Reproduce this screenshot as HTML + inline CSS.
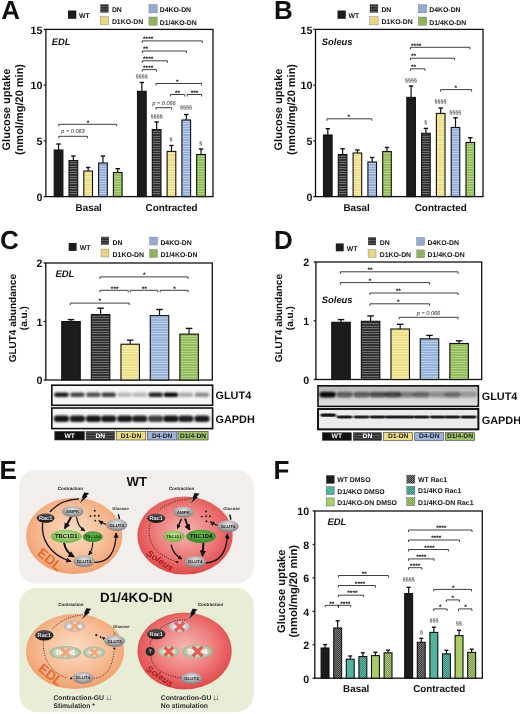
<!DOCTYPE html>
<html><head><meta charset="utf-8"><title>Figure</title>
<style>html,body{margin:0;padding:0;background:#fff;width:520px;height:714px;overflow:hidden}svg{display:block}</style>
</head><body>
<svg width="520" height="714" viewBox="0 0 520 714" font-family="Liberation Sans, Arial, sans-serif" text-rendering="geometricPrecision">
<defs>
<pattern id="pDN" patternUnits="userSpaceOnUse" width="10" height="2.5"><rect width="10" height="2.5" fill="#262626"/><rect y="0.8" width="10" height="0.9" fill="#8d8d8d"/></pattern>
<pattern id="pD1" patternUnits="userSpaceOnUse" width="10" height="2.5"><rect width="10" height="2.5" fill="#eadc78"/><rect y="0.8" width="10" height="0.9" fill="#faf5c8"/></pattern>
<pattern id="pD4" patternUnits="userSpaceOnUse" width="10" height="2.5"><rect width="10" height="2.5" fill="#8fa9d6"/><rect y="0.8" width="10" height="0.9" fill="#cddbf0"/></pattern>
<pattern id="pD14" patternUnits="userSpaceOnUse" width="10" height="2.5"><rect width="10" height="2.5" fill="#8ab84e"/><rect y="0.8" width="10" height="0.9" fill="#c6dea0"/></pattern>
<pattern id="pDNl" patternUnits="userSpaceOnUse" width="10" height="2.6"><rect width="10" height="2.6" fill="#2c2c2c"/><rect y="0.8" width="10" height="1.0" fill="#5c5c5c"/></pattern>
<pattern id="pWTR" patternUnits="userSpaceOnUse" width="2" height="2"><rect width="2" height="2" fill="#3c3c3c"/><rect width="1" height="1" fill="#7a7a7a"/><rect x="1" y="1" width="1" height="1" fill="#7a7a7a"/></pattern>
<pattern id="pKOR" patternUnits="userSpaceOnUse" width="2" height="2"><rect width="2" height="2" fill="#368c7b"/><rect width="1" height="1" fill="#62b8a6"/><rect x="1" y="1" width="1" height="1" fill="#62b8a6"/></pattern>
<pattern id="pDNR" patternUnits="userSpaceOnUse" width="2" height="2"><rect width="2" height="2" fill="#7c9c45"/><rect width="1" height="1" fill="#aac878"/><rect x="1" y="1" width="1" height="1" fill="#aac878"/></pattern>
<radialGradient id="gOr" cx="50%" cy="45%" r="55%"><stop offset="0" stop-color="#fbdcc4"/><stop offset="0.6" stop-color="#f7be96"/><stop offset="1" stop-color="#f1a06e"/></radialGradient>
<radialGradient id="gRd" cx="50%" cy="45%" r="55%"><stop offset="0" stop-color="#f7b8b4"/><stop offset="0.55" stop-color="#ee7f7d"/><stop offset="1" stop-color="#e2484b"/></radialGradient>
<radialGradient id="gGy" cx="50%" cy="35%" r="65%"><stop offset="0" stop-color="#e4e4e4"/><stop offset="0.55" stop-color="#b0b0b0"/><stop offset="1" stop-color="#7c7c7c"/></radialGradient>
<linearGradient id="gBk" x1="0" y1="0" x2="0" y2="1"><stop offset="0" stop-color="#555"/><stop offset="1" stop-color="#111"/></linearGradient>
<radialGradient id="gLG" cx="50%" cy="40%" r="60%"><stop offset="0" stop-color="#c4e79a"/><stop offset="1" stop-color="#6fb342"/></radialGradient>
<radialGradient id="gDG" cx="50%" cy="40%" r="60%"><stop offset="0" stop-color="#6cbf4c"/><stop offset="1" stop-color="#2e8a2a"/></radialGradient>
<radialGradient id="gFd" cx="50%" cy="50%" r="55%"><stop offset="0" stop-color="#f6f8fa"/><stop offset="0.5" stop-color="#dcdee0"/><stop offset="1" stop-color="#a8a8a8"/></radialGradient>
<radialGradient id="gFdG" cx="50%" cy="50%" r="55%"><stop offset="0" stop-color="#f4f6f0"/><stop offset="0.5" stop-color="#d4dccc"/><stop offset="1" stop-color="#8fb283"/></radialGradient>
<marker id="ah" viewBox="0 0 10 10" refX="8" refY="5" markerWidth="4" markerHeight="4" orient="auto-start-reverse"><path d="M0,0 L10,5 L0,10 z" fill="#111"/></marker>
</defs>
<rect x="0" y="0" width="520" height="714" fill="#ffffff" stroke="none" stroke-width="0" />
<text x="1.2" y="18.7" font-size="26" text-anchor="start" font-weight="bold" font-style="normal" fill="#111" >A</text>
<rect x="68" y="10.5" width="8.3" height="8.3" fill="#1c1c1c" stroke="none" stroke-width="0" />
<text x="79" y="17.8" font-size="6.9" text-anchor="start" font-weight="bold" font-style="normal" fill="#111" >WT</text>
<rect x="100.3" y="4.3" width="8.3" height="8.3" fill="url(#pDNl)" stroke="none" stroke-width="0" />
<text x="111.9" y="12" font-size="6.9" text-anchor="start" font-weight="bold" font-style="normal" fill="#111" >DN</text>
<rect x="100.3" y="16.6" width="8.3" height="8.3" fill="#e8d67c" stroke="#777" stroke-width="0.4" />
<text x="111.9" y="24.3" font-size="6.9" text-anchor="start" font-weight="bold" font-style="normal" fill="#111" >D1KO-DN</text>
<rect x="148.9" y="4.6" width="8.3" height="8.3" fill="#93aad2" stroke="#777" stroke-width="0.4" />
<text x="159.7" y="12.3" font-size="6.9" text-anchor="start" font-weight="bold" font-style="normal" fill="#111" >D4KO-DN</text>
<rect x="148.9" y="17" width="8.3" height="8.3" fill="#8db359" stroke="#777" stroke-width="0.4" />
<text x="159.7" y="24.5" font-size="6.9" text-anchor="start" font-weight="bold" font-style="normal" fill="#111" >D1/4KO-DN</text>
<rect x="45.9" y="29.4" width="167.1" height="167.2" fill="none" stroke="#111" stroke-width="1.3" />
<line x1="43.7" y1="196.6" x2="45.9" y2="196.6" stroke="#111" stroke-width="1.2" />
<text x="42.4" y="200.9" font-size="10.7" text-anchor="end" font-weight="bold" font-style="normal" fill="#111" >0</text>
<line x1="43.7" y1="140.87" x2="45.9" y2="140.87" stroke="#111" stroke-width="1.2" />
<text x="42.4" y="145.17" font-size="10.7" text-anchor="end" font-weight="bold" font-style="normal" fill="#111" >5</text>
<line x1="43.7" y1="85.13" x2="45.9" y2="85.13" stroke="#111" stroke-width="1.2" />
<text x="42.4" y="89.43" font-size="10.7" text-anchor="end" font-weight="bold" font-style="normal" fill="#111" >10</text>
<line x1="43.7" y1="29.4" x2="45.9" y2="29.4" stroke="#111" stroke-width="1.2" />
<text x="42.4" y="33.7" font-size="10.7" text-anchor="end" font-weight="bold" font-style="normal" fill="#111" >15</text>
<text transform="translate(10.2,109.5) rotate(-90)" font-size="11" text-anchor="middle" font-weight="bold" fill="#111">Glucose uptake</text>
<text transform="translate(22.6,109.5) rotate(-90)" font-size="11" text-anchor="middle" font-weight="bold" fill="#111">(nmol/mg/20 min)</text>
<text x="51.8" y="44.6" font-size="9.4" text-anchor="start" font-weight="bold" font-style="italic" fill="#111" >EDL</text>
<rect x="54.2" y="150" width="8.7" height="46.6" fill="#1c1c1c" stroke="#111" stroke-width="1.1" />
<line x1="58.55" y1="150" x2="58.55" y2="144" stroke="#111" stroke-width="1.2" />
<line x1="56.35" y1="144" x2="60.75" y2="144" stroke="#111" stroke-width="1.4" />
<rect x="137.5" y="91.3" width="8.7" height="105.3" fill="#1c1c1c" stroke="#111" stroke-width="1.1" />
<line x1="141.85" y1="91.3" x2="141.85" y2="82.5" stroke="#111" stroke-width="1.2" />
<line x1="139.65" y1="82.5" x2="144.05" y2="82.5" stroke="#111" stroke-width="1.4" />
<rect x="69" y="160.5" width="8.7" height="36.1" fill="url(#pDN)" stroke="#111" stroke-width="1.1" />
<line x1="73.35" y1="160.5" x2="73.35" y2="156" stroke="#111" stroke-width="1.2" />
<line x1="71.15" y1="156" x2="75.55" y2="156" stroke="#111" stroke-width="1.4" />
<rect x="152.3" y="129.6" width="8.7" height="67" fill="url(#pDN)" stroke="#111" stroke-width="1.1" />
<line x1="156.65" y1="129.6" x2="156.65" y2="122" stroke="#111" stroke-width="1.2" />
<line x1="154.45" y1="122" x2="158.85" y2="122" stroke="#111" stroke-width="1.4" />
<rect x="83.8" y="171" width="8.7" height="25.6" fill="url(#pD1)" stroke="#111" stroke-width="1.1" />
<line x1="88.15" y1="171" x2="88.15" y2="167.5" stroke="#111" stroke-width="1.2" />
<line x1="85.95" y1="167.5" x2="90.35" y2="167.5" stroke="#111" stroke-width="1.4" />
<rect x="167.1" y="151.4" width="8.7" height="45.2" fill="url(#pD1)" stroke="#111" stroke-width="1.1" />
<line x1="171.45" y1="151.4" x2="171.45" y2="145.5" stroke="#111" stroke-width="1.2" />
<line x1="169.25" y1="145.5" x2="173.65" y2="145.5" stroke="#111" stroke-width="1.4" />
<rect x="98.6" y="163" width="8.7" height="33.6" fill="url(#pD4)" stroke="#111" stroke-width="1.1" />
<line x1="102.95" y1="163" x2="102.95" y2="156" stroke="#111" stroke-width="1.2" />
<line x1="100.75" y1="156" x2="105.15" y2="156" stroke="#111" stroke-width="1.4" />
<rect x="181.9" y="120" width="8.7" height="76.6" fill="url(#pD4)" stroke="#111" stroke-width="1.1" />
<line x1="186.25" y1="120" x2="186.25" y2="114.5" stroke="#111" stroke-width="1.2" />
<line x1="184.05" y1="114.5" x2="188.45" y2="114.5" stroke="#111" stroke-width="1.4" />
<rect x="113.4" y="172.5" width="8.7" height="24.1" fill="url(#pD14)" stroke="#111" stroke-width="1.1" />
<line x1="117.75" y1="172.5" x2="117.75" y2="168.7" stroke="#111" stroke-width="1.2" />
<line x1="115.55" y1="168.7" x2="119.95" y2="168.7" stroke="#111" stroke-width="1.4" />
<rect x="196.7" y="154.5" width="8.7" height="42.1" fill="url(#pD14)" stroke="#111" stroke-width="1.1" />
<line x1="201.05" y1="154.5" x2="201.05" y2="149" stroke="#111" stroke-width="1.2" />
<line x1="198.85" y1="149" x2="203.25" y2="149" stroke="#111" stroke-width="1.4" />
<text x="88.7" y="210.8" font-size="9.9" text-anchor="middle" font-weight="bold" font-style="normal" fill="#111" >Basal</text>
<text x="171.6" y="210.9" font-size="9.9" text-anchor="middle" font-weight="bold" font-style="normal" fill="#111" >Contracted</text>
<path d="M58.75,126.3 L58.75,124.3 L116.75,124.3 L116.75,126.3" fill="none" stroke="#2a2a2a" stroke-width="0.9" />
<text x="88" y="124.5" font-size="6.6" text-anchor="middle" font-weight="bold" font-style="normal" fill="#111" >*</text>
<path d="M58.75,138.3 L58.75,136.3 L87.5,136.3 L87.5,138.3" fill="none" stroke="#2a2a2a" stroke-width="0.9" />
<text x="73" y="133.4" font-size="5.6" text-anchor="middle" font-weight="normal" font-style="italic" fill="#222" >p = 0.063</text>
<path d="M142.3,42.9 L142.3,40.9 L202.3,40.9 L202.3,42.9" fill="none" stroke="#2a2a2a" stroke-width="0.9" />
<text x="143" y="41.1" font-size="6.6" text-anchor="start" font-weight="bold" font-style="normal" fill="#111" >****</text>
<path d="M142.3,53 L142.3,51 L186.4,51 L186.4,53" fill="none" stroke="#2a2a2a" stroke-width="0.9" />
<text x="143" y="51.2" font-size="6.6" text-anchor="start" font-weight="bold" font-style="normal" fill="#111" >**</text>
<path d="M142.3,62.8 L142.3,60.8 L167.4,60.8 L167.4,62.8" fill="none" stroke="#2a2a2a" stroke-width="0.9" />
<text x="143" y="61" font-size="6.6" text-anchor="start" font-weight="bold" font-style="normal" fill="#111" >****</text>
<path d="M142.3,71.6 L142.3,69.6 L156.5,69.6 L156.5,71.6" fill="none" stroke="#2a2a2a" stroke-width="0.9" />
<text x="143" y="69.8" font-size="6.6" text-anchor="start" font-weight="bold" font-style="normal" fill="#111" >****</text>
<path d="M156,85.5 L156,83.5 L201.5,83.5 L201.5,85.5" fill="none" stroke="#2a2a2a" stroke-width="0.9" />
<text x="177.2" y="83.7" font-size="6.6" text-anchor="middle" font-weight="bold" font-style="normal" fill="#111" >*</text>
<path d="M170.5,96.5 L170.5,94.5 L184.7,94.5 L184.7,96.5" fill="none" stroke="#2a2a2a" stroke-width="0.9" />
<text x="177.5" y="94.7" font-size="6.6" text-anchor="middle" font-weight="bold" font-style="normal" fill="#111" >**</text>
<path d="M187.3,96.5 L187.3,94.5 L201.6,94.5 L201.6,96.5" fill="none" stroke="#2a2a2a" stroke-width="0.9" />
<text x="194.5" y="94.7" font-size="6.6" text-anchor="middle" font-weight="bold" font-style="normal" fill="#111" >***</text>
<path d="M156,109.7 L156,107.7 L171.7,107.7 L171.7,109.7" fill="none" stroke="#2a2a2a" stroke-width="0.9" />
<text x="164" y="105" font-size="5.6" text-anchor="middle" font-weight="normal" font-style="italic" fill="#222" >p = 0.066</text>
<text x="141.8" y="77.9" font-size="5.4" text-anchor="middle" font-weight="bold" font-style="normal" fill="#5a5a5a" >§§§§</text>
<text x="156.7" y="117.5" font-size="5.4" text-anchor="middle" font-weight="bold" font-style="normal" fill="#5a5a5a" >§§§§</text>
<text x="171" y="140.5" font-size="5.4" text-anchor="middle" font-weight="bold" font-style="normal" fill="#5a5a5a" >§</text>
<text x="186" y="109.2" font-size="5.4" text-anchor="middle" font-weight="bold" font-style="normal" fill="#5a5a5a" >§§§§</text>
<text x="200.8" y="144.5" font-size="5.4" text-anchor="middle" font-weight="bold" font-style="normal" fill="#5a5a5a" >§</text>
<text x="273.9" y="18.7" font-size="26" text-anchor="start" font-weight="bold" font-style="normal" fill="#111" >B</text>
<rect x="337.5" y="10.5" width="8.3" height="8.3" fill="#1c1c1c" stroke="none" stroke-width="0" />
<text x="348.5" y="17.8" font-size="6.9" text-anchor="start" font-weight="bold" font-style="normal" fill="#111" >WT</text>
<rect x="369.8" y="4.3" width="8.3" height="8.3" fill="url(#pDNl)" stroke="none" stroke-width="0" />
<text x="381.4" y="12" font-size="6.9" text-anchor="start" font-weight="bold" font-style="normal" fill="#111" >DN</text>
<rect x="369.8" y="16.6" width="8.3" height="8.3" fill="#e8d67c" stroke="#777" stroke-width="0.4" />
<text x="381.4" y="24.3" font-size="6.9" text-anchor="start" font-weight="bold" font-style="normal" fill="#111" >D1KO-DN</text>
<rect x="418.4" y="4.6" width="8.3" height="8.3" fill="#93aad2" stroke="#777" stroke-width="0.4" />
<text x="429.2" y="12.3" font-size="6.9" text-anchor="start" font-weight="bold" font-style="normal" fill="#111" >D4KO-DN</text>
<rect x="418.4" y="17" width="8.3" height="8.3" fill="#8db359" stroke="#777" stroke-width="0.4" />
<text x="429.2" y="24.5" font-size="6.9" text-anchor="start" font-weight="bold" font-style="normal" fill="#111" >D1/4KO-DN</text>
<rect x="315.5" y="29.4" width="167.5" height="167.2" fill="none" stroke="#111" stroke-width="1.3" />
<line x1="313.3" y1="196.6" x2="315.5" y2="196.6" stroke="#111" stroke-width="1.2" />
<text x="312.4" y="200.9" font-size="10.7" text-anchor="end" font-weight="bold" font-style="normal" fill="#111" >0</text>
<line x1="313.3" y1="140.87" x2="315.5" y2="140.87" stroke="#111" stroke-width="1.2" />
<text x="312.4" y="145.17" font-size="10.7" text-anchor="end" font-weight="bold" font-style="normal" fill="#111" >5</text>
<line x1="313.3" y1="85.13" x2="315.5" y2="85.13" stroke="#111" stroke-width="1.2" />
<text x="312.4" y="89.43" font-size="10.7" text-anchor="end" font-weight="bold" font-style="normal" fill="#111" >10</text>
<line x1="313.3" y1="29.4" x2="315.5" y2="29.4" stroke="#111" stroke-width="1.2" />
<text x="312.4" y="33.7" font-size="10.7" text-anchor="end" font-weight="bold" font-style="normal" fill="#111" >15</text>
<text transform="translate(281.9,109.5) rotate(-90)" font-size="11" text-anchor="middle" font-weight="bold" fill="#111">Glucose uptake</text>
<text transform="translate(294.5,109.5) rotate(-90)" font-size="11" text-anchor="middle" font-weight="bold" fill="#111">(nmol/mg/20 min)</text>
<text x="321.8" y="44.6" font-size="9.4" text-anchor="start" font-weight="bold" font-style="italic" fill="#111" >Soleus</text>
<rect x="323.5" y="135" width="8.6" height="61.6" fill="#1c1c1c" stroke="#111" stroke-width="1.1" />
<line x1="327.8" y1="135" x2="327.8" y2="128.7" stroke="#111" stroke-width="1.2" />
<line x1="325.6" y1="128.7" x2="330" y2="128.7" stroke="#111" stroke-width="1.4" />
<rect x="406.8" y="97.4" width="8.6" height="99.2" fill="#1c1c1c" stroke="#111" stroke-width="1.1" />
<line x1="411.1" y1="97.4" x2="411.1" y2="86" stroke="#111" stroke-width="1.2" />
<line x1="408.9" y1="86" x2="413.3" y2="86" stroke="#111" stroke-width="1.4" />
<rect x="338.3" y="154.5" width="8.6" height="42.1" fill="url(#pDN)" stroke="#111" stroke-width="1.1" />
<line x1="342.6" y1="154.5" x2="342.6" y2="148.7" stroke="#111" stroke-width="1.2" />
<line x1="340.4" y1="148.7" x2="344.8" y2="148.7" stroke="#111" stroke-width="1.4" />
<rect x="421.6" y="133.3" width="8.6" height="63.3" fill="url(#pDN)" stroke="#111" stroke-width="1.1" />
<line x1="425.9" y1="133.3" x2="425.9" y2="128.4" stroke="#111" stroke-width="1.2" />
<line x1="423.7" y1="128.4" x2="428.1" y2="128.4" stroke="#111" stroke-width="1.4" />
<rect x="353.1" y="153" width="8.6" height="43.6" fill="url(#pD1)" stroke="#111" stroke-width="1.1" />
<line x1="357.4" y1="153" x2="357.4" y2="150" stroke="#111" stroke-width="1.2" />
<line x1="355.2" y1="150" x2="359.6" y2="150" stroke="#111" stroke-width="1.4" />
<rect x="436.4" y="113.4" width="8.6" height="83.2" fill="url(#pD1)" stroke="#111" stroke-width="1.1" />
<line x1="440.7" y1="113.4" x2="440.7" y2="108" stroke="#111" stroke-width="1.2" />
<line x1="438.5" y1="108" x2="442.9" y2="108" stroke="#111" stroke-width="1.4" />
<rect x="367.9" y="162" width="8.6" height="34.6" fill="url(#pD4)" stroke="#111" stroke-width="1.1" />
<line x1="372.2" y1="162" x2="372.2" y2="157.5" stroke="#111" stroke-width="1.2" />
<line x1="370" y1="157.5" x2="374.4" y2="157.5" stroke="#111" stroke-width="1.4" />
<rect x="451.2" y="127.5" width="8.6" height="69.1" fill="url(#pD4)" stroke="#111" stroke-width="1.1" />
<line x1="455.5" y1="127.5" x2="455.5" y2="117.8" stroke="#111" stroke-width="1.2" />
<line x1="453.3" y1="117.8" x2="457.7" y2="117.8" stroke="#111" stroke-width="1.4" />
<rect x="382.7" y="151.5" width="8.6" height="45.1" fill="url(#pD14)" stroke="#111" stroke-width="1.1" />
<line x1="387" y1="151.5" x2="387" y2="147.5" stroke="#111" stroke-width="1.2" />
<line x1="384.8" y1="147.5" x2="389.2" y2="147.5" stroke="#111" stroke-width="1.4" />
<rect x="466" y="142.5" width="8.6" height="54.1" fill="url(#pD14)" stroke="#111" stroke-width="1.1" />
<line x1="470.3" y1="142.5" x2="470.3" y2="137.7" stroke="#111" stroke-width="1.2" />
<line x1="468.1" y1="137.7" x2="472.5" y2="137.7" stroke="#111" stroke-width="1.4" />
<text x="356.6" y="210.8" font-size="9.9" text-anchor="middle" font-weight="bold" font-style="normal" fill="#111" >Basal</text>
<text x="440.8" y="210.9" font-size="9.9" text-anchor="middle" font-weight="bold" font-style="normal" fill="#111" >Contracted</text>
<path d="M327,120.8 L327,118.8 L371.8,118.8 L371.8,120.8" fill="none" stroke="#2a2a2a" stroke-width="0.9" />
<text x="348.8" y="119" font-size="6.6" text-anchor="middle" font-weight="bold" font-style="normal" fill="#111" >*</text>
<path d="M410.5,49.3 L410.5,47.3 L470,47.3 L470,49.3" fill="none" stroke="#2a2a2a" stroke-width="0.9" />
<text x="411" y="47.5" font-size="6.6" text-anchor="start" font-weight="bold" font-style="normal" fill="#111" >****</text>
<path d="M410.5,60.2 L410.5,58.2 L454.5,58.2 L454.5,60.2" fill="none" stroke="#2a2a2a" stroke-width="0.9" />
<text x="411" y="58.4" font-size="6.6" text-anchor="start" font-weight="bold" font-style="normal" fill="#111" >**</text>
<path d="M410.5,70.8 L410.5,68.8 L425,68.8 L425,70.8" fill="none" stroke="#2a2a2a" stroke-width="0.9" />
<text x="411" y="69" font-size="6.6" text-anchor="start" font-weight="bold" font-style="normal" fill="#111" >**</text>
<path d="M440.5,91.6 L440.5,89.6 L471.6,89.6 L471.6,91.6" fill="none" stroke="#2a2a2a" stroke-width="0.9" />
<text x="455.7" y="89.8" font-size="6.6" text-anchor="middle" font-weight="bold" font-style="normal" fill="#111" >*</text>
<text x="411" y="81.8" font-size="5.4" text-anchor="middle" font-weight="bold" font-style="normal" fill="#5a5a5a" >§§§§</text>
<text x="425.8" y="123.9" font-size="5.4" text-anchor="middle" font-weight="bold" font-style="normal" fill="#5a5a5a" >§</text>
<text x="440.6" y="103" font-size="5.4" text-anchor="middle" font-weight="bold" font-style="normal" fill="#5a5a5a" >§§§§</text>
<text x="455.3" y="113.5" font-size="5.4" text-anchor="middle" font-weight="bold" font-style="normal" fill="#5a5a5a" >§§§§</text>
<text x="0" y="248.7" font-size="26" text-anchor="start" font-weight="bold" font-style="normal" fill="#111" >C</text>
<rect x="68.7" y="243" width="7.9" height="7.9" fill="#1c1c1c" stroke="none" stroke-width="0" />
<text x="79.7" y="250.3" font-size="6.9" text-anchor="start" font-weight="bold" font-style="normal" fill="#111" >WT</text>
<rect x="101" y="236.8" width="7.9" height="7.9" fill="url(#pDNl)" stroke="none" stroke-width="0" />
<text x="112.6" y="244.5" font-size="6.9" text-anchor="start" font-weight="bold" font-style="normal" fill="#111" >DN</text>
<rect x="101" y="249.1" width="7.9" height="7.9" fill="#e8d67c" stroke="#777" stroke-width="0.4" />
<text x="112.6" y="256.8" font-size="6.9" text-anchor="start" font-weight="bold" font-style="normal" fill="#111" >D1KO-DN</text>
<rect x="149.6" y="237.1" width="7.9" height="7.9" fill="#93aad2" stroke="#777" stroke-width="0.4" />
<text x="160.4" y="244.8" font-size="6.9" text-anchor="start" font-weight="bold" font-style="normal" fill="#111" >D4KO-DN</text>
<rect x="149.6" y="249.5" width="7.9" height="7.9" fill="#8db359" stroke="#777" stroke-width="0.4" />
<text x="160.4" y="257" font-size="6.9" text-anchor="start" font-weight="bold" font-style="normal" fill="#111" >D1/4KO-DN</text>
<rect x="45.8" y="263" width="166.5" height="117" fill="none" stroke="#111" stroke-width="1.3" />
<line x1="43.6" y1="380" x2="45.8" y2="380" stroke="#111" stroke-width="1.2" />
<text x="42.5" y="384.3" font-size="10.7" text-anchor="end" font-weight="bold" font-style="normal" fill="#111" >0</text>
<line x1="43.6" y1="321.5" x2="45.8" y2="321.5" stroke="#111" stroke-width="1.2" />
<text x="42.5" y="325.8" font-size="10.7" text-anchor="end" font-weight="bold" font-style="normal" fill="#111" >1</text>
<line x1="43.6" y1="263" x2="45.8" y2="263" stroke="#111" stroke-width="1.2" />
<text x="42.5" y="267.3" font-size="10.7" text-anchor="end" font-weight="bold" font-style="normal" fill="#111" >2</text>
<text transform="translate(15.7,318.2) rotate(-90)" font-size="10" text-anchor="middle" font-weight="bold" fill="#111">GLUT4 abundance</text>
<text transform="translate(27,318.2) rotate(-90)" font-size="10" text-anchor="middle" font-weight="bold" fill="#111">(a.u.)</text>
<text x="55.4" y="276.6" font-size="9.4" text-anchor="start" font-weight="bold" font-style="italic" fill="#111" >EDL</text>
<rect x="61.75" y="321.6" width="18.5" height="58.4" fill="#1c1c1c" stroke="#111" stroke-width="1.1" />
<line x1="71" y1="321.6" x2="71" y2="319.6" stroke="#111" stroke-width="1.2" />
<line x1="67.75" y1="319.6" x2="74.25" y2="319.6" stroke="#111" stroke-width="1.4" />
<rect x="91.35" y="314.6" width="18.5" height="65.4" fill="url(#pDN)" stroke="#111" stroke-width="1.1" />
<line x1="100.6" y1="314.6" x2="100.6" y2="308.2" stroke="#111" stroke-width="1.2" />
<line x1="97.35" y1="308.2" x2="103.85" y2="308.2" stroke="#111" stroke-width="1.4" />
<rect x="120.95" y="344.2" width="18.5" height="35.8" fill="url(#pD1)" stroke="#111" stroke-width="1.1" />
<line x1="130.2" y1="344.2" x2="130.2" y2="340.2" stroke="#111" stroke-width="1.2" />
<line x1="126.95" y1="340.2" x2="133.45" y2="340.2" stroke="#111" stroke-width="1.4" />
<rect x="150.25" y="315.6" width="18.5" height="64.4" fill="url(#pD4)" stroke="#111" stroke-width="1.1" />
<line x1="159.5" y1="315.6" x2="159.5" y2="309.5" stroke="#111" stroke-width="1.2" />
<line x1="156.25" y1="309.5" x2="162.75" y2="309.5" stroke="#111" stroke-width="1.4" />
<rect x="179.85" y="334.1" width="18.5" height="45.9" fill="url(#pD14)" stroke="#111" stroke-width="1.1" />
<line x1="189.1" y1="334.1" x2="189.1" y2="328.4" stroke="#111" stroke-width="1.2" />
<line x1="185.85" y1="328.4" x2="192.35" y2="328.4" stroke="#111" stroke-width="1.4" />
<path d="M99.9,278.9 L99.9,276.9 L188.1,276.9 L188.1,278.9" fill="none" stroke="#2a2a2a" stroke-width="0.9" />
<text x="144.3" y="277.1" font-size="6.6" text-anchor="middle" font-weight="bold" font-style="normal" fill="#111" >*</text>
<path d="M100,292.3 L100,290.3 L128.2,290.3 L128.2,292.3" fill="none" stroke="#2a2a2a" stroke-width="0.9" />
<text x="114.7" y="290.5" font-size="6.6" text-anchor="middle" font-weight="bold" font-style="normal" fill="#111" >***</text>
<path d="M130.2,292.3 L130.2,290.3 L157.8,290.3 L157.8,292.3" fill="none" stroke="#2a2a2a" stroke-width="0.9" />
<text x="144.3" y="290.5" font-size="6.6" text-anchor="middle" font-weight="bold" font-style="normal" fill="#111" >**</text>
<path d="M160.2,292.3 L160.2,290.3 L188.1,290.3 L188.1,292.3" fill="none" stroke="#2a2a2a" stroke-width="0.9" />
<text x="174.6" y="290.5" font-size="6.6" text-anchor="middle" font-weight="bold" font-style="normal" fill="#111" >*</text>
<path d="M70.3,305.1 L70.3,303.1 L129.2,303.1 L129.2,305.1" fill="none" stroke="#2a2a2a" stroke-width="0.9" />
<text x="99.9" y="303.3" font-size="6.6" text-anchor="middle" font-weight="bold" font-style="normal" fill="#111" >*</text>
<text x="274" y="248.7" font-size="26" text-anchor="start" font-weight="bold" font-style="normal" fill="#111" >D</text>
<rect x="335.8" y="243.4" width="7.9" height="7.9" fill="#1c1c1c" stroke="none" stroke-width="0" />
<text x="346.8" y="250.7" font-size="6.9" text-anchor="start" font-weight="bold" font-style="normal" fill="#111" >WT</text>
<rect x="368.1" y="237.2" width="7.9" height="7.9" fill="url(#pDNl)" stroke="none" stroke-width="0" />
<text x="379.7" y="244.9" font-size="6.9" text-anchor="start" font-weight="bold" font-style="normal" fill="#111" >DN</text>
<rect x="368.1" y="249.5" width="7.9" height="7.9" fill="#e8d67c" stroke="#777" stroke-width="0.4" />
<text x="379.7" y="257.2" font-size="6.9" text-anchor="start" font-weight="bold" font-style="normal" fill="#111" >D1KO-DN</text>
<rect x="416.7" y="237.5" width="7.9" height="7.9" fill="#93aad2" stroke="#777" stroke-width="0.4" />
<text x="427.5" y="245.2" font-size="6.9" text-anchor="start" font-weight="bold" font-style="normal" fill="#111" >D4KO-DN</text>
<rect x="416.7" y="249.9" width="7.9" height="7.9" fill="#8db359" stroke="#777" stroke-width="0.4" />
<text x="427.5" y="257.4" font-size="6.9" text-anchor="start" font-weight="bold" font-style="normal" fill="#111" >D1/4KO-DN</text>
<rect x="315.9" y="262" width="165.8" height="117.5" fill="none" stroke="#111" stroke-width="1.3" />
<line x1="313.7" y1="379.5" x2="315.9" y2="379.5" stroke="#111" stroke-width="1.2" />
<text x="309.2" y="383.8" font-size="10.7" text-anchor="end" font-weight="bold" font-style="normal" fill="#111" >0</text>
<line x1="313.7" y1="320.75" x2="315.9" y2="320.75" stroke="#111" stroke-width="1.2" />
<text x="309.2" y="325.05" font-size="10.7" text-anchor="end" font-weight="bold" font-style="normal" fill="#111" >1</text>
<line x1="313.7" y1="262" x2="315.9" y2="262" stroke="#111" stroke-width="1.2" />
<text x="309.2" y="266.3" font-size="10.7" text-anchor="end" font-weight="bold" font-style="normal" fill="#111" >2</text>
<text transform="translate(281.7,318.2) rotate(-90)" font-size="10" text-anchor="middle" font-weight="bold" fill="#111">GLUT4 abundance</text>
<text transform="translate(293.4,318.2) rotate(-90)" font-size="10" text-anchor="middle" font-weight="bold" fill="#111">(a.u.)</text>
<text x="321.8" y="303" font-size="9.4" text-anchor="start" font-weight="bold" font-style="italic" fill="#111" >Soleus</text>
<rect x="331.75" y="322.3" width="18.5" height="57.2" fill="#1c1c1c" stroke="#111" stroke-width="1.1" />
<line x1="341" y1="322.3" x2="341" y2="319.6" stroke="#111" stroke-width="1.2" />
<line x1="337.75" y1="319.6" x2="344.25" y2="319.6" stroke="#111" stroke-width="1.4" />
<rect x="361.35" y="321.3" width="18.5" height="58.2" fill="url(#pDN)" stroke="#111" stroke-width="1.1" />
<line x1="370.6" y1="321.3" x2="370.6" y2="315.9" stroke="#111" stroke-width="1.2" />
<line x1="367.35" y1="315.9" x2="373.85" y2="315.9" stroke="#111" stroke-width="1.4" />
<rect x="390.95" y="329" width="18.5" height="50.5" fill="url(#pD1)" stroke="#111" stroke-width="1.1" />
<line x1="400.2" y1="329" x2="400.2" y2="324.3" stroke="#111" stroke-width="1.2" />
<line x1="396.95" y1="324.3" x2="403.45" y2="324.3" stroke="#111" stroke-width="1.4" />
<rect x="420.25" y="338.8" width="18.5" height="40.7" fill="url(#pD4)" stroke="#111" stroke-width="1.1" />
<line x1="429.5" y1="338.8" x2="429.5" y2="335.4" stroke="#111" stroke-width="1.2" />
<line x1="426.25" y1="335.4" x2="432.75" y2="335.4" stroke="#111" stroke-width="1.4" />
<rect x="449.85" y="343.5" width="18.5" height="36" fill="url(#pD14)" stroke="#111" stroke-width="1.1" />
<line x1="459.1" y1="343.5" x2="459.1" y2="340.8" stroke="#111" stroke-width="1.2" />
<line x1="455.85" y1="340.8" x2="462.35" y2="340.8" stroke="#111" stroke-width="1.4" />
<path d="M340.3,273.8 L340.3,271.8 L458.1,271.8 L458.1,273.8" fill="none" stroke="#2a2a2a" stroke-width="0.9" />
<text x="370" y="272" font-size="6.6" text-anchor="middle" font-weight="bold" font-style="normal" fill="#111" >**</text>
<path d="M340.3,284.6 L340.3,282.6 L429.5,282.6 L429.5,284.6" fill="none" stroke="#2a2a2a" stroke-width="0.9" />
<text x="370" y="282.8" font-size="6.6" text-anchor="middle" font-weight="bold" font-style="normal" fill="#111" >*</text>
<path d="M369.9,295 L369.9,293 L458.1,293 L458.1,295" fill="none" stroke="#2a2a2a" stroke-width="0.9" />
<text x="398.2" y="293.2" font-size="6.6" text-anchor="middle" font-weight="bold" font-style="normal" fill="#111" >**</text>
<path d="M369.9,305.8 L369.9,303.8 L429.5,303.8 L429.5,305.8" fill="none" stroke="#2a2a2a" stroke-width="0.9" />
<text x="398.2" y="304" font-size="6.6" text-anchor="middle" font-weight="bold" font-style="normal" fill="#111" >*</text>
<path d="M399.2,319.3 L399.2,317.3 L458.1,317.3 L458.1,319.3" fill="none" stroke="#2a2a2a" stroke-width="0.9" />
<text x="428.5" y="314.6" font-size="5.6" text-anchor="middle" font-weight="normal" font-style="italic" fill="#222" >p = 0.066</text>
<filter id="bl1" x="-50%" y="-100%" width="200%" height="300%"><feGaussianBlur stdDeviation="1.0 0.9"/></filter>
<filter id="bl2" x="-50%" y="-100%" width="200%" height="300%"><feGaussianBlur stdDeviation="0.9 0.5"/></filter>
<linearGradient id="gBlotD" x1="0" y1="0" x2="0" y2="1"><stop offset="0" stop-color="#b4b4b4"/><stop offset="0.45" stop-color="#cdcdcd"/><stop offset="1" stop-color="#e6e6e6"/></linearGradient>
<rect x="51.8" y="385.2" width="160.8" height="20.1" fill="#f6f6f6" stroke="none" stroke-width="0" />
<rect x="54.2" y="392.6" width="14.6" height="4.4" rx="2.2" fill="#000" fill-opacity="0.9" filter="url(#bl1)"/>
<rect x="70.1" y="392.6" width="14.6" height="4.4" rx="2.2" fill="#000" fill-opacity="0.72" filter="url(#bl1)"/>
<rect x="86.1" y="392.6" width="14.6" height="4.4" rx="2.2" fill="#000" fill-opacity="0.68" filter="url(#bl1)"/>
<rect x="101.4" y="392.6" width="14.6" height="4.4" rx="2.2" fill="#000" fill-opacity="0.75" filter="url(#bl1)"/>
<rect x="117.4" y="392.6" width="14.6" height="4.4" rx="2.2" fill="#000" fill-opacity="0.25" filter="url(#bl1)"/>
<rect x="132.4" y="392.6" width="14.6" height="4.4" rx="2.2" fill="#000" fill-opacity="0.25" filter="url(#bl1)"/>
<rect x="148.4" y="392.6" width="14.6" height="4.4" rx="2.2" fill="#000" fill-opacity="0.85" filter="url(#bl1)"/>
<rect x="163.6" y="392.6" width="14.6" height="4.4" rx="2.2" fill="#000" fill-opacity="0.97" filter="url(#bl1)"/>
<rect x="178.6" y="392.6" width="14.6" height="4.4" rx="2.2" fill="#000" fill-opacity="0.3" filter="url(#bl1)"/>
<rect x="194.6" y="392.6" width="14.6" height="4.4" rx="2.2" fill="#000" fill-opacity="0.42" filter="url(#bl1)"/>
<rect x="51.8" y="385.2" width="160.8" height="20.1" fill="none" stroke="#111" stroke-width="1.6" />
<rect x="51.8" y="408" width="160.8" height="20.6" fill="#f6f6f6" stroke="none" stroke-width="0" />
<rect x="53.8" y="415.5" width="15.4" height="6.4" rx="3.2" fill="#000" fill-opacity="0.92" filter="url(#bl1)"/>
<rect x="69.7" y="415.5" width="15.4" height="6.4" rx="3.2" fill="#000" fill-opacity="0.9" filter="url(#bl1)"/>
<rect x="85.7" y="415.5" width="15.4" height="6.4" rx="3.2" fill="#000" fill-opacity="0.92" filter="url(#bl1)"/>
<rect x="101" y="415.5" width="15.4" height="6.4" rx="3.2" fill="#000" fill-opacity="0.9" filter="url(#bl1)"/>
<rect x="117" y="415.5" width="15.4" height="6.4" rx="3.2" fill="#000" fill-opacity="0.9" filter="url(#bl1)"/>
<rect x="132" y="415.5" width="15.4" height="6.4" rx="3.2" fill="#000" fill-opacity="0.88" filter="url(#bl1)"/>
<rect x="148" y="415.5" width="15.4" height="6.4" rx="3.2" fill="#000" fill-opacity="0.75" filter="url(#bl1)"/>
<rect x="163.2" y="415.5" width="15.4" height="6.4" rx="3.2" fill="#000" fill-opacity="0.92" filter="url(#bl1)"/>
<rect x="178.2" y="415.5" width="15.4" height="6.4" rx="3.2" fill="#000" fill-opacity="0.88" filter="url(#bl1)"/>
<rect x="194.2" y="415.5" width="15.4" height="6.4" rx="3.2" fill="#000" fill-opacity="0.9" filter="url(#bl1)"/>
<rect x="51.8" y="408" width="160.8" height="20.6" fill="none" stroke="#111" stroke-width="1.6" />
<text x="215.5" y="398.6" font-size="10.9" text-anchor="start" font-weight="bold" font-style="normal" fill="#111" >GLUT4</text>
<text x="215.5" y="423.3" font-size="10.9" text-anchor="start" font-weight="bold" font-style="normal" fill="#111" >GAPDH</text>
<rect x="318" y="385.8" width="160.4" height="20.6" fill="url(#gBlotD)" stroke="none" stroke-width="0" />
<rect x="319.35" y="391.8" width="16.5" height="5.6" rx="2.8" fill="#000" fill-opacity="0.97" filter="url(#bl1)"/>
<rect x="336.35" y="391.8" width="16.5" height="5.6" rx="2.8" fill="#000" fill-opacity="0.55" filter="url(#bl1)"/>
<rect x="353.35" y="391.8" width="16.5" height="5.6" rx="2.8" fill="#000" fill-opacity="0.55" filter="url(#bl1)"/>
<rect x="369.35" y="391.8" width="16.5" height="5.6" rx="2.8" fill="#000" fill-opacity="0.62" filter="url(#bl1)"/>
<rect x="384.35" y="391.8" width="16.5" height="5.6" rx="2.8" fill="#000" fill-opacity="0.68" filter="url(#bl1)"/>
<rect x="398.35" y="391.8" width="16.5" height="5.6" rx="2.8" fill="#000" fill-opacity="0.4" filter="url(#bl1)"/>
<rect x="413.35" y="391.8" width="16.5" height="5.6" rx="2.8" fill="#000" fill-opacity="0.5" filter="url(#bl1)"/>
<rect x="429.35" y="391.8" width="16.5" height="5.6" rx="2.8" fill="#000" fill-opacity="0.3" filter="url(#bl1)"/>
<rect x="444.35" y="391.8" width="16.5" height="5.6" rx="2.8" fill="#000" fill-opacity="0.48" filter="url(#bl1)"/>
<rect x="460.35" y="391.8" width="16.5" height="5.6" rx="2.8" fill="#000" fill-opacity="0.25" filter="url(#bl1)"/>
<rect x="318" y="385.8" width="160.4" height="20.6" fill="none" stroke="#111" stroke-width="1.6" />
<rect x="318" y="409" width="160.4" height="20.4" fill="#ebebeb" stroke="none" stroke-width="0" />
<rect x="319.7" y="415.55" width="15.8" height="2.9" rx="1.45" fill="#000" fill-opacity="0" filter="url(#bl2)"/>
<rect x="336.7" y="415.55" width="15.8" height="2.9" rx="1.45" fill="#000" fill-opacity="0.88" filter="url(#bl2)"/>
<rect x="353.7" y="415.55" width="15.8" height="2.9" rx="1.45" fill="#000" fill-opacity="0.85" filter="url(#bl2)"/>
<rect x="369.7" y="415.55" width="15.8" height="2.9" rx="1.45" fill="#000" fill-opacity="0.86" filter="url(#bl2)"/>
<rect x="384.7" y="415.55" width="15.8" height="2.9" rx="1.45" fill="#000" fill-opacity="0.86" filter="url(#bl2)"/>
<rect x="398.7" y="415.55" width="15.8" height="2.9" rx="1.45" fill="#000" fill-opacity="0.85" filter="url(#bl2)"/>
<rect x="413.7" y="415.55" width="15.8" height="2.9" rx="1.45" fill="#000" fill-opacity="0.86" filter="url(#bl2)"/>
<rect x="429.7" y="415.55" width="15.8" height="2.9" rx="1.45" fill="#000" fill-opacity="0.85" filter="url(#bl2)"/>
<rect x="444.7" y="415.55" width="15.8" height="2.9" rx="1.45" fill="#000" fill-opacity="0.86" filter="url(#bl2)"/>
<rect x="460.7" y="415.55" width="15.8" height="2.9" rx="1.45" fill="#000" fill-opacity="0.88" filter="url(#bl2)"/>
<rect x="318" y="409" width="160.4" height="20.4" fill="none" stroke="#111" stroke-width="1.6" />
<rect x="320.5" y="413.6" width="15.5" height="3.2" rx="1.5" fill="#000" fill-opacity="0.9" filter="url(#bl2)"/>
<rect x="318" y="409" width="160.4" height="20.4" fill="none" stroke="#111" stroke-width="1.6" />
<text x="481.7" y="399.6" font-size="10.9" text-anchor="start" font-weight="bold" font-style="normal" fill="#111" >GLUT4</text>
<text x="481.7" y="424.2" font-size="10.9" text-anchor="start" font-weight="bold" font-style="normal" fill="#111" >GAPDH</text>
<rect x="54.8" y="431.4" width="29.6" height="8.6" fill="#111" stroke="#333" stroke-width="0.6" />
<text x="69.6" y="438.1" font-size="6.7" text-anchor="middle" font-weight="bold" font-style="normal" fill="#fff" >WT</text>
<rect x="86.1" y="431.4" width="28.4" height="8.6" fill="url(#pDNl)" stroke="#333" stroke-width="0.6" />
<text x="100.3" y="438.1" font-size="6.7" text-anchor="middle" font-weight="bold" font-style="normal" fill="#fff" >DN</text>
<rect x="116.2" y="431.4" width="29.6" height="8.6" fill="#ece07e" stroke="#333" stroke-width="0.6" />
<text x="131" y="438.1" font-size="6.7" text-anchor="middle" font-weight="bold" font-style="normal" fill="#222" >D1-DN</text>
<rect x="147.4" y="431.4" width="29.5" height="8.6" fill="#9db3da" stroke="#333" stroke-width="0.6" />
<text x="162.15" y="438.1" font-size="6.7" text-anchor="middle" font-weight="bold" font-style="normal" fill="#222" >D4-DN</text>
<rect x="178" y="431.4" width="30.1" height="8.6" fill="#9cc463" stroke="#333" stroke-width="0.6" />
<text x="193.05" y="438.1" font-size="6.7" text-anchor="middle" font-weight="bold" font-style="normal" fill="#222" >D1/4-DN</text>
<rect x="322.3" y="432.7" width="29" height="7.6" fill="#111" stroke="#333" stroke-width="0.6" />
<text x="336.8" y="438.4" font-size="6.7" text-anchor="middle" font-weight="bold" font-style="normal" fill="#fff" >WT</text>
<rect x="353.4" y="432.7" width="28.1" height="7.6" fill="url(#pDNl)" stroke="#333" stroke-width="0.6" />
<text x="367.45" y="438.4" font-size="6.7" text-anchor="middle" font-weight="bold" font-style="normal" fill="#fff" >DN</text>
<rect x="383.6" y="432.7" width="29" height="7.6" fill="#ece07e" stroke="#333" stroke-width="0.6" />
<text x="398.1" y="438.4" font-size="6.7" text-anchor="middle" font-weight="bold" font-style="normal" fill="#222" >D1-DN</text>
<rect x="414.7" y="432.7" width="29.1" height="7.6" fill="#9db3da" stroke="#333" stroke-width="0.6" />
<text x="429.25" y="438.4" font-size="6.7" text-anchor="middle" font-weight="bold" font-style="normal" fill="#222" >D4-DN</text>
<rect x="445.5" y="432.7" width="29" height="7.6" fill="#9cc463" stroke="#333" stroke-width="0.6" />
<text x="460" y="438.4" font-size="6.7" text-anchor="middle" font-weight="bold" font-style="normal" fill="#222" >D1/4-DN</text>
<text x="273.5" y="479.2" font-size="26" text-anchor="start" font-weight="bold" font-style="normal" fill="#111" >F</text>
<rect x="326.2" y="475.4" width="8.1" height="8.1" fill="#1c1c1c" stroke="#555" stroke-width="0.4" />
<text x="337.2" y="482.4" font-size="6.9" text-anchor="start" font-weight="bold" font-style="normal" fill="#111" >WT DMSO</text>
<rect x="326.2" y="486.6" width="8.1" height="8.1" fill="#4fb5a0" stroke="#555" stroke-width="0.4" />
<text x="337.2" y="493.6" font-size="6.9" text-anchor="start" font-weight="bold" font-style="normal" fill="#111" >D1/4KO DMSO</text>
<rect x="326.2" y="497.9" width="8.1" height="8.1" fill="#a9cf62" stroke="#555" stroke-width="0.4" />
<text x="337.2" y="504.9" font-size="6.9" text-anchor="start" font-weight="bold" font-style="normal" fill="#111" >D1/4KO-DN DMSO</text>
<rect x="406.8" y="475.1" width="8.1" height="8.1" fill="url(#pWTR)" stroke="#555" stroke-width="0.4" />
<text x="418" y="482.1" font-size="6.9" text-anchor="start" font-weight="bold" font-style="normal" fill="#111" >WT Rac1</text>
<rect x="406.8" y="486.3" width="8.1" height="8.1" fill="url(#pKOR)" stroke="#555" stroke-width="0.4" />
<text x="418" y="493.3" font-size="6.9" text-anchor="start" font-weight="bold" font-style="normal" fill="#111" >D1/4KO Rac1</text>
<rect x="406.8" y="497.6" width="8.1" height="8.1" fill="url(#pDNR)" stroke="#555" stroke-width="0.4" />
<text x="418" y="504.6" font-size="6.9" text-anchor="start" font-weight="bold" font-style="normal" fill="#111" >D1/4KO-DN Rac1</text>
<rect x="314.8" y="511" width="167.5" height="167.2" fill="none" stroke="#111" stroke-width="1.3" />
<line x1="312.6" y1="678.2" x2="314.8" y2="678.2" stroke="#111" stroke-width="1.2" />
<text x="309.2" y="682.5" font-size="10.7" text-anchor="end" font-weight="bold" font-style="normal" fill="#111" >0</text>
<line x1="312.6" y1="644.76" x2="314.8" y2="644.76" stroke="#111" stroke-width="1.2" />
<text x="309.2" y="649.06" font-size="10.7" text-anchor="end" font-weight="bold" font-style="normal" fill="#111" >2</text>
<line x1="312.6" y1="611.32" x2="314.8" y2="611.32" stroke="#111" stroke-width="1.2" />
<text x="309.2" y="615.62" font-size="10.7" text-anchor="end" font-weight="bold" font-style="normal" fill="#111" >4</text>
<line x1="312.6" y1="577.88" x2="314.8" y2="577.88" stroke="#111" stroke-width="1.2" />
<text x="309.2" y="582.18" font-size="10.7" text-anchor="end" font-weight="bold" font-style="normal" fill="#111" >6</text>
<line x1="312.6" y1="544.44" x2="314.8" y2="544.44" stroke="#111" stroke-width="1.2" />
<text x="309.2" y="548.74" font-size="10.7" text-anchor="end" font-weight="bold" font-style="normal" fill="#111" >8</text>
<line x1="312.6" y1="511" x2="314.8" y2="511" stroke="#111" stroke-width="1.2" />
<text x="309.2" y="515.3" font-size="10.7" text-anchor="end" font-weight="bold" font-style="normal" fill="#111" >10</text>
<text transform="translate(284.8,591.3) rotate(-90)" font-size="11.2" text-anchor="middle" font-weight="bold" fill="#111">Glucose uptake</text>
<text transform="translate(297.3,591.3) rotate(-90)" font-size="11.2" text-anchor="middle" font-weight="bold" fill="#111">(nmol/mg/20 min)</text>
<text x="327.5" y="525.2" font-size="9.4" text-anchor="start" font-weight="bold" font-style="italic" fill="#111" >EDL</text>
<rect x="321.1" y="648" width="7.9" height="30.2" fill="#1c1c1c" stroke="#111" stroke-width="1.1" />
<line x1="325.05" y1="648" x2="325.05" y2="644.6" stroke="#111" stroke-width="1.2" />
<line x1="323.05" y1="644.6" x2="327.05" y2="644.6" stroke="#111" stroke-width="1.4" />
<rect x="404.7" y="593.6" width="7.9" height="84.6" fill="#1c1c1c" stroke="#111" stroke-width="1.1" />
<line x1="408.65" y1="593.6" x2="408.65" y2="587.3" stroke="#111" stroke-width="1.2" />
<line x1="406.65" y1="587.3" x2="410.65" y2="587.3" stroke="#111" stroke-width="1.4" />
<rect x="333.7" y="628" width="7.9" height="50.2" fill="url(#pWTR)" stroke="#111" stroke-width="1.1" />
<line x1="337.65" y1="628" x2="337.65" y2="620.8" stroke="#111" stroke-width="1.2" />
<line x1="335.65" y1="620.8" x2="339.65" y2="620.8" stroke="#111" stroke-width="1.4" />
<rect x="417.3" y="642.3" width="7.9" height="35.9" fill="url(#pWTR)" stroke="#111" stroke-width="1.1" />
<line x1="421.25" y1="642.3" x2="421.25" y2="638.3" stroke="#111" stroke-width="1.2" />
<line x1="419.25" y1="638.3" x2="423.25" y2="638.3" stroke="#111" stroke-width="1.4" />
<rect x="346.3" y="659.2" width="7.9" height="19" fill="#4fb5a0" stroke="#111" stroke-width="1.1" />
<line x1="350.25" y1="659.2" x2="350.25" y2="656" stroke="#111" stroke-width="1.2" />
<line x1="348.25" y1="656" x2="352.25" y2="656" stroke="#111" stroke-width="1.4" />
<rect x="429.9" y="632.4" width="7.9" height="45.8" fill="#4fb5a0" stroke="#111" stroke-width="1.1" />
<line x1="433.85" y1="632.4" x2="433.85" y2="627.2" stroke="#111" stroke-width="1.2" />
<line x1="431.85" y1="627.2" x2="435.85" y2="627.2" stroke="#111" stroke-width="1.4" />
<rect x="358.9" y="656.6" width="7.9" height="21.6" fill="url(#pKOR)" stroke="#111" stroke-width="1.1" />
<line x1="362.85" y1="656.6" x2="362.85" y2="652.8" stroke="#111" stroke-width="1.2" />
<line x1="360.85" y1="652.8" x2="364.85" y2="652.8" stroke="#111" stroke-width="1.4" />
<rect x="442.5" y="653.9" width="7.9" height="24.3" fill="url(#pKOR)" stroke="#111" stroke-width="1.1" />
<line x1="446.45" y1="653.9" x2="446.45" y2="650.3" stroke="#111" stroke-width="1.2" />
<line x1="444.45" y1="650.3" x2="448.45" y2="650.3" stroke="#111" stroke-width="1.4" />
<rect x="371.5" y="655.6" width="7.9" height="22.6" fill="#a9cf62" stroke="#111" stroke-width="1.1" />
<line x1="375.45" y1="655.6" x2="375.45" y2="652.3" stroke="#111" stroke-width="1.2" />
<line x1="373.45" y1="652.3" x2="377.45" y2="652.3" stroke="#111" stroke-width="1.4" />
<rect x="455.1" y="635.6" width="7.9" height="42.6" fill="#a9cf62" stroke="#111" stroke-width="1.1" />
<line x1="459.05" y1="635.6" x2="459.05" y2="630.3" stroke="#111" stroke-width="1.2" />
<line x1="457.05" y1="630.3" x2="461.05" y2="630.3" stroke="#111" stroke-width="1.4" />
<rect x="384.1" y="652.8" width="7.9" height="25.4" fill="url(#pDNR)" stroke="#111" stroke-width="1.1" />
<line x1="388.05" y1="652.8" x2="388.05" y2="650.2" stroke="#111" stroke-width="1.2" />
<line x1="386.05" y1="650.2" x2="390.05" y2="650.2" stroke="#111" stroke-width="1.4" />
<rect x="467.7" y="652.4" width="7.9" height="25.8" fill="url(#pDNR)" stroke="#111" stroke-width="1.1" />
<line x1="471.65" y1="652.4" x2="471.65" y2="649.2" stroke="#111" stroke-width="1.2" />
<line x1="469.65" y1="649.2" x2="473.65" y2="649.2" stroke="#111" stroke-width="1.4" />
<text x="356.2" y="692.1" font-size="9.9" text-anchor="middle" font-weight="bold" font-style="normal" fill="#111" >Basal</text>
<text x="439.2" y="692.3" font-size="9.9" text-anchor="middle" font-weight="bold" font-style="normal" fill="#111" >Contracted</text>
<path d="M338.4,577.5 L338.4,575.5 L388.4,575.5 L388.4,577.5" fill="none" stroke="#2a2a2a" stroke-width="0.9" />
<text x="364.3" y="575.7" font-size="6.6" text-anchor="middle" font-weight="bold" font-style="normal" fill="#111" >**</text>
<path d="M338.4,587.5 L338.4,585.5 L375.5,585.5 L375.5,587.5" fill="none" stroke="#2a2a2a" stroke-width="0.9" />
<text x="360" y="585.7" font-size="6.6" text-anchor="middle" font-weight="bold" font-style="normal" fill="#111" >****</text>
<path d="M338.4,597.2 L338.4,595.2 L363.6,595.2 L363.6,597.2" fill="none" stroke="#2a2a2a" stroke-width="0.9" />
<text x="352.4" y="595.4" font-size="6.6" text-anchor="middle" font-weight="bold" font-style="normal" fill="#111" >****</text>
<path d="M325.2,607.3 L325.2,605.3 L338.4,605.3 L338.4,607.3" fill="none" stroke="#2a2a2a" stroke-width="0.9" />
<text x="331.7" y="605.5" font-size="6.6" text-anchor="middle" font-weight="bold" font-style="normal" fill="#111" >**</text>
<path d="M338.4,607.3 L338.4,605.3 L350.7,605.3 L350.7,607.3" fill="none" stroke="#2a2a2a" stroke-width="0.9" />
<text x="345.3" y="605.5" font-size="6.6" text-anchor="middle" font-weight="bold" font-style="normal" fill="#111" >****</text>
<line x1="338.4" y1="605.3" x2="338.4" y2="607.5" stroke="#111" stroke-width="0.9" />
<path d="M408.5,532 L408.5,530 L472,530 L472,532" fill="none" stroke="#2a2a2a" stroke-width="0.9" />
<text x="441.3" y="530.2" font-size="6.6" text-anchor="middle" font-weight="bold" font-style="normal" fill="#111" >****</text>
<path d="M408.5,542 L408.5,540 L459.5,540 L459.5,542" fill="none" stroke="#2a2a2a" stroke-width="0.9" />
<text x="436.3" y="540.2" font-size="6.6" text-anchor="middle" font-weight="bold" font-style="normal" fill="#111" >****</text>
<path d="M408.5,551.5 L408.5,549.5 L448.4,549.5 L448.4,551.5" fill="none" stroke="#2a2a2a" stroke-width="0.9" />
<text x="429.5" y="549.7" font-size="6.6" text-anchor="middle" font-weight="bold" font-style="normal" fill="#111" >****</text>
<path d="M408.5,560.9 L408.5,558.9 L434.1,558.9 L434.1,560.9" fill="none" stroke="#2a2a2a" stroke-width="0.9" />
<text x="421.3" y="559.1" font-size="6.6" text-anchor="middle" font-weight="bold" font-style="normal" fill="#111" >****</text>
<path d="M408.5,569.7 L408.5,567.7 L421.9,567.7 L421.9,569.7" fill="none" stroke="#2a2a2a" stroke-width="0.9" />
<text x="415.2" y="567.9" font-size="6.6" text-anchor="middle" font-weight="bold" font-style="normal" fill="#111" >****</text>
<path d="M433.7,591.4 L433.7,589.4 L471.5,589.4 L471.5,591.4" fill="none" stroke="#2a2a2a" stroke-width="0.9" />
<text x="453.4" y="589.6" font-size="6.6" text-anchor="middle" font-weight="bold" font-style="normal" fill="#111" >*</text>
<path d="M446.3,601.9 L446.3,599.9 L459.3,599.9 L459.3,601.9" fill="none" stroke="#2a2a2a" stroke-width="0.9" />
<text x="452.8" y="600.1" font-size="6.6" text-anchor="middle" font-weight="bold" font-style="normal" fill="#111" >*</text>
<path d="M433.7,610.9 L433.7,608.9 L447.1,608.9 L447.1,610.9" fill="none" stroke="#2a2a2a" stroke-width="0.9" />
<text x="440.4" y="609.1" font-size="6.6" text-anchor="middle" font-weight="bold" font-style="normal" fill="#111" >*</text>
<path d="M458.5,610.9 L458.5,608.9 L471.9,608.9 L471.9,610.9" fill="none" stroke="#2a2a2a" stroke-width="0.9" />
<text x="465.6" y="609.1" font-size="6.6" text-anchor="middle" font-weight="bold" font-style="normal" fill="#111" >*</text>
<text x="408.7" y="580.8" font-size="5.4" text-anchor="middle" font-weight="bold" font-style="normal" fill="#5a5a5a" >§§§§</text>
<text x="421.5" y="633.9" font-size="5.4" text-anchor="middle" font-weight="bold" font-style="normal" fill="#5a5a5a" >§</text>
<text x="433.9" y="621.8" font-size="5.4" text-anchor="middle" font-weight="bold" font-style="normal" fill="#5a5a5a" >§§§</text>
<text x="458.9" y="624.5" font-size="5.4" text-anchor="middle" font-weight="bold" font-style="normal" fill="#5a5a5a" >§§</text>
<text x="-0.5" y="479.2" font-size="26" text-anchor="start" font-weight="bold" font-style="normal" fill="#111" >E</text>
<rect x="19.2" y="470" width="234.6" height="113.6" rx="17" ry="17" fill="#f1eeec"/>
<rect x="19.2" y="587.7" width="234.6" height="124.5" rx="18" ry="18" fill="#e7eed5"/>
<text x="136.8" y="486.3" font-size="13.2" text-anchor="middle" font-weight="bold" font-style="normal" fill="#111" >WT</text>
<text x="136.3" y="601.8" font-size="13.45" text-anchor="middle" font-weight="bold" font-style="normal" fill="#111" >D1/4KO-DN</text>
<marker id="ah2" viewBox="0 0 10 10" refX="7" refY="5" markerWidth="3.2" markerHeight="3.2" orient="auto"><path d="M0,0 L10,5 L0,10 z" fill="#111"/></marker>
<marker id="ahd" viewBox="0 0 10 10" refX="5" refY="5" markerWidth="3" markerHeight="3" orient="auto"><circle cx="5" cy="5" r="4" fill="#222"/></marker>
<ellipse cx="74.2" cy="535.9" rx="48" ry="38.2" fill="url(#gOr)"/>
<text transform="translate(36.5,554.6) rotate(39)" font-size="13.5" font-weight="bold" fill="#e8692f">EDL</text>
<path d="M79,498.8 C68,499.3 57,503.5 50,512" fill="none" stroke="#111" stroke-width="1.3" />
<path d="M42.6,523.5 C41,538 49,555 70.5,561.3" fill="none" stroke="#111" stroke-width="1.3" marker-end="url(#ah)" stroke-linecap="round"/>
<path d="M84.1,492.2 L89.3,492.9 L86.6,496 L87.6,496.6 L79.2,504 L82.5,498.2 L81.5,497.8 Z" fill="#111" stroke="#fff" stroke-width="0.5" stroke-opacity="0.6"/>
<text x="70.3" y="490.4" font-size="4.5" text-anchor="middle" font-weight="bold" font-style="normal" fill="#222" >Contraction</text>
<path d="M70.8,517.5 L65.3,527.6" fill="none" stroke="#111" stroke-width="2" marker-end="url(#ah2)" stroke-linecap="round"/>
<path d="M76.6,517.6 C77.3,523 79.5,527.5 84.5,530.6" fill="none" stroke="#111" stroke-width="1.1" marker-end="url(#ah)" stroke-linecap="round"/>
<path d="M64.2,543.4 C65,549 68,553 73.2,556.3" fill="none" stroke="#111" stroke-width="2" marker-end="url(#ah2)" stroke-linecap="round"/>
<path d="M92.8,542.7 C92.6,547.5 91.3,551.5 88.9,554.6" fill="none" stroke="#111" stroke-width="1.1" marker-end="url(#ah)" stroke-linecap="round"/>
<path d="M94.8,562.4 C106,562.5 115.5,556 116.2,533.5" fill="none" stroke="#111" stroke-width="1.3" marker-end="url(#ah)" stroke-linecap="round"/>
<path d="M105.8,524.2 C103.5,523.5 101.5,522.4 99.2,521" fill="none" stroke="#111" stroke-width="1.2" marker-end="url(#ah)" stroke-linecap="round"/>
<path d="M118.2,514.2 C119,515.8 119.4,517.4 119.3,519.2" fill="none" stroke="#111" stroke-width="1.4" />
<circle cx="94.8" cy="510.8" r="0.95" fill="#1a1a1a"/>
<circle cx="90.6" cy="516.1" r="0.95" fill="#1a1a1a"/>
<circle cx="94.8" cy="515.7" r="0.95" fill="#1a1a1a"/>
<circle cx="98.8" cy="515.7" r="0.95" fill="#1a1a1a"/>
<circle cx="95.3" cy="520.6" r="0.95" fill="#1a1a1a"/>
<text x="120.5" y="509.7" font-size="4.2" text-anchor="middle" font-weight="bold" font-style="normal" fill="#333" >Glucose</text>
<ellipse cx="72.7" cy="511.5" rx="10.7" ry="5.6" fill="url(#gGy)"/>
<text x="72.7" y="513.12" font-size="4.5" text-anchor="middle" font-weight="bold" font-style="normal" fill="#2a2a2a" >AMPK</text>
<ellipse cx="45.6" cy="518.1" rx="9" ry="4.7" fill="url(#gBk)"/>
<text x="45.6" y="520.12" font-size="5.6" text-anchor="middle" font-weight="bold" font-style="normal" fill="#e6e6e6" >Rac1</text>
<ellipse cx="66.2" cy="536.3" rx="15.5" ry="6.6" fill="url(#gLG)"/>
<text x="66.2" y="538.39" font-size="5.8" text-anchor="middle" font-weight="bold" font-style="normal" fill="#111" >TBC1D1</text>
<ellipse cx="92.8" cy="536.7" rx="10" ry="5.4" fill="url(#gDG)"/>
<text x="92.8" y="538.1" font-size="3.9" text-anchor="middle" font-weight="bold" font-style="normal" fill="#1a2a1a" >TBC1D4</text>
<ellipse cx="84" cy="561.3" rx="10.7" ry="5.8" fill="url(#gGy)"/>
<text x="84" y="562.88" font-size="4.4" text-anchor="middle" font-weight="bold" font-style="normal" fill="#2a2a2a" >GLUT4</text>
<ellipse cx="116.8" cy="525.1" rx="10.6" ry="6" fill="url(#gGy)"/>
<text x="116.8" y="526.68" font-size="4.4" text-anchor="middle" font-weight="bold" font-style="normal" fill="#2a2a2a" >GLUT4</text>
<ellipse cx="185" cy="535.6" rx="47.6" ry="39" fill="url(#gRd)"/>
<text transform="translate(145.8,554.8) rotate(34)" font-size="9.2" font-weight="bold" font-style="italic" fill="#a82020">Soleus</text>
<path d="M192.5,498.6 C182,499 168,502 158.5,510.5" fill="none" stroke="#111" stroke-width="0.75" stroke-dasharray="1.1 1.3"/>
<path d="M150.2,523.3 C147.5,533 149,547 163,555.5 C168,558.5 172,560.5 176.8,562" fill="none" stroke="#111" stroke-width="0.75" stroke-dasharray="1.1 1.3"/>
<circle cx="177.2" cy="562.2" r="1.1" fill="#1a1a1a"/>
<path d="M194.6,492.8 L199.8,493.5 L197.1,496.6 L198.1,497.2 L189.7,504.6 L193,498.8 L192,498.4 Z" fill="#111" stroke="#fff" stroke-width="0.5" stroke-opacity="0.6"/>
<text x="181.5" y="490.4" font-size="4.5" text-anchor="middle" font-weight="bold" font-style="normal" fill="#222" >Contraction</text>
<path d="M181.2,519.3 L177.6,527.8" fill="none" stroke="#111" stroke-width="1.4" marker-end="url(#ah2)" stroke-linecap="round"/>
<path d="M185.3,519.2 C186.5,523 187.5,526 189.3,529" fill="none" stroke="#111" stroke-width="2" marker-end="url(#ah2)" stroke-linecap="round"/>
<path d="M171.2,545.3 C172.5,551 176,555.5 181.2,558.6" fill="none" stroke="#111" stroke-width="1.4" marker-end="url(#ah2)" stroke-linecap="round"/>
<path d="M203.4,543.5 L202.6,555" fill="none" stroke="#111" stroke-width="2" marker-end="url(#ah2)" stroke-linecap="round"/>
<path d="M205.8,562.8 C217,562.5 226.5,556 227.4,534.4" fill="none" stroke="#111" stroke-width="1.3" marker-end="url(#ah)" stroke-linecap="round"/>
<path d="M217.1,525.2 C214.8,524.4 212.8,523.3 210.5,522" fill="none" stroke="#111" stroke-width="1.2" marker-end="url(#ah)" stroke-linecap="round"/>
<path d="M229.6,514.6 C230.4,516.2 230.8,517.8 230.7,519.8" fill="none" stroke="#111" stroke-width="1.4" />
<circle cx="206" cy="511.5" r="0.95" fill="#1a1a1a"/>
<circle cx="201.8" cy="516.6" r="0.95" fill="#1a1a1a"/>
<circle cx="206" cy="516.3" r="0.95" fill="#1a1a1a"/>
<circle cx="210" cy="516.3" r="0.95" fill="#1a1a1a"/>
<circle cx="206.5" cy="521.2" r="0.95" fill="#1a1a1a"/>
<text x="231.6" y="509.6" font-size="4.2" text-anchor="middle" font-weight="bold" font-style="normal" fill="#333" >Glucose</text>
<ellipse cx="183.4" cy="512" rx="10.4" ry="5.6" fill="url(#gGy)"/>
<text x="183.4" y="513.62" font-size="4.5" text-anchor="middle" font-weight="bold" font-style="normal" fill="#2a2a2a" >AMPK</text>
<ellipse cx="156.2" cy="518.3" rx="9" ry="4.6" fill="url(#gBk)"/>
<text x="156.2" y="520.32" font-size="5.6" text-anchor="middle" font-weight="bold" font-style="normal" fill="#e6e6e6" >Rac1</text>
<ellipse cx="174" cy="536.3" rx="10.7" ry="5.6" fill="url(#gLG)"/>
<text x="174" y="537.7" font-size="3.9" text-anchor="middle" font-weight="bold" font-style="normal" fill="#1a2a1a" >TBC1D1</text>
<ellipse cx="201" cy="536.3" rx="15" ry="6.6" fill="url(#gDG)"/>
<text x="201" y="538.39" font-size="5.8" text-anchor="middle" font-weight="bold" font-style="normal" fill="#111" >TBC1D4</text>
<ellipse cx="195.3" cy="561.9" rx="10.7" ry="5.8" fill="url(#gGy)"/>
<text x="195.3" y="563.48" font-size="4.4" text-anchor="middle" font-weight="bold" font-style="normal" fill="#2a2a2a" >GLUT4</text>
<ellipse cx="228.1" cy="526.2" rx="10.6" ry="6" fill="url(#gGy)"/>
<text x="228.1" y="527.78" font-size="4.4" text-anchor="middle" font-weight="bold" font-style="normal" fill="#2a2a2a" >GLUT4</text>
<ellipse cx="75" cy="651.4" rx="49" ry="37.6" fill="url(#gOr)"/>
<text transform="translate(37.3,670) rotate(39)" font-size="13.5" font-weight="bold" fill="#e8692f">EDL</text>
<path d="M82.9,614.7 C72,616 61,619.5 52,629.5" fill="none" stroke="#111" stroke-width="0.75" stroke-dasharray="1.1 1.3"/>
<path d="M43.5,640.8 C42,655 49,672 66,677.8" fill="none" stroke="#111" stroke-width="0.75" stroke-dasharray="1.1 1.3"/>
<circle cx="71.2" cy="678.3" r="1.1" fill="#1a1a1a"/>
<path d="M93.8,678.2 C104,678 112.5,670 114.2,650" fill="none" stroke="#111" stroke-width="0.75" stroke-dasharray="1.1 1.3"/>
<circle cx="114.4" cy="648.6" r="1.1" fill="#1a1a1a"/>
<path d="M86.3,608 L91.5,608.7 L88.8,611.8 L89.8,612.4 L81.4,619.8 L84.7,614 L83.7,613.6 Z" fill="#111" stroke="#fff" stroke-width="0.5" stroke-opacity="0.6"/>
<text x="70.9" y="606.1" font-size="4.5" text-anchor="middle" font-weight="bold" font-style="normal" fill="#222" >Contraction</text>
<circle cx="96.3" cy="635.2" r="1.1" fill="#1a1a1a"/>
<circle cx="100.6" cy="637" r="0.9" fill="#1a1a1a"/>
<path d="M104.2,638.6 L102.5,637.9" fill="none" stroke="#111" stroke-width="1" marker-end="url(#ah2)"/>
<line x1="114.7" y1="632.5" x2="114.7" y2="635.2" stroke="#111" stroke-width="0.5" />
<text x="121.3" y="627.6" font-size="4.2" text-anchor="middle" font-weight="bold" font-style="normal" fill="#333" >Glucose</text>
<ellipse cx="74.3" cy="626" rx="10.6" ry="5.6" fill="url(#gFd)"/>
<text x="68.5" y="627.6" font-size="4.2" text-anchor="middle" font-weight="bold" font-style="normal" fill="#fff" >A</text>
<text x="80.3" y="627.6" font-size="4.2" text-anchor="middle" font-weight="bold" font-style="normal" fill="#fff" >K</text>
<line x1="70.05" y1="622.1" x2="79.55" y2="630.3" stroke="#f3a678" stroke-width="3" stroke-linecap="butt"/>
<line x1="70.05" y1="630.3" x2="79.55" y2="622.1" stroke="#f3a678" stroke-width="3" stroke-linecap="butt"/>
<ellipse cx="44.3" cy="635.2" rx="9.2" ry="5.2" fill="url(#gBk)"/>
<text x="44.3" y="637.22" font-size="5.6" text-anchor="middle" font-weight="bold" font-style="normal" fill="#e6e6e6" >Rac1</text>
<ellipse cx="65.3" cy="652.5" rx="16" ry="6.6" fill="url(#gFdG)"/>
<text x="65.3" y="655" font-size="7" text-anchor="middle" font-weight="bold" font-style="normal" fill="#fff" >TB     D1</text>
<line x1="60.85" y1="648" x2="70.35" y2="657" stroke="#f3a678" stroke-width="3.4" stroke-linecap="butt"/>
<line x1="60.85" y1="657" x2="70.35" y2="648" stroke="#f3a678" stroke-width="3.4" stroke-linecap="butt"/>
<ellipse cx="94.1" cy="652.5" rx="11" ry="6" fill="url(#gFdG)"/>
<text x="94.1" y="654.2" font-size="4.6" text-anchor="middle" font-weight="bold" font-style="normal" fill="#fff" >T        4</text>
<line x1="90.15" y1="648.5" x2="98.65" y2="656.5" stroke="#f3a678" stroke-width="3" stroke-linecap="butt"/>
<line x1="90.15" y1="656.5" x2="98.65" y2="648.5" stroke="#f3a678" stroke-width="3" stroke-linecap="butt"/>
<ellipse cx="83" cy="677.9" rx="10.7" ry="5.8" fill="url(#gGy)"/>
<text x="83" y="679.48" font-size="4.4" text-anchor="middle" font-weight="bold" font-style="normal" fill="#2a2a2a" >GLUT4</text>
<ellipse cx="114.6" cy="641" rx="10.6" ry="6" fill="url(#gGy)"/>
<text x="114.6" y="642.58" font-size="4.4" text-anchor="middle" font-weight="bold" font-style="normal" fill="#2a2a2a" >GLUT4</text>
<ellipse cx="184.6" cy="651" rx="47.1" ry="38.4" fill="url(#gRd)"/>
<text transform="translate(145.6,670.2) rotate(34)" font-size="9.2" font-weight="bold" font-style="italic" fill="#a82020">Soleus</text>
<path d="M187.6,619.8 C178,619.5 167,622.5 160,628.8" fill="none" stroke="#111" stroke-width="0.75" stroke-dasharray="1.1 1.3"/>
<path d="M152,639.5 C150,641.5 150,644 150.2,646.5" fill="none" stroke="#111" stroke-width="0.75" stroke-dasharray="1.1 1.3"/>
<path d="M151,656.5 C152,666 160,674 178.5,677.6" fill="none" stroke="#111" stroke-width="0.75" stroke-dasharray="1.1 1.3"/>
<circle cx="181.2" cy="678" r="1.1" fill="#1a1a1a"/>
<path d="M192.5,608.5 L197.7,609.2 L195,612.3 L196,612.9 L187.6,620.3 L190.9,614.5 L189.9,614.1 Z" fill="#111" stroke="#fff" stroke-width="0.5" stroke-opacity="0.6"/>
<text x="210.5" y="606.1" font-size="4.5" text-anchor="middle" font-weight="bold" font-style="normal" fill="#222" >Contraction</text>
<ellipse cx="179.2" cy="626.7" rx="10.5" ry="5.8" fill="url(#gFd)"/>
<line x1="175.1" y1="622.45" x2="184.1" y2="630.95" stroke="#ea5a50" stroke-width="3.2" stroke-linecap="butt"/>
<line x1="175.1" y1="630.95" x2="184.1" y2="622.45" stroke="#ea5a50" stroke-width="3.2" stroke-linecap="butt"/>
<ellipse cx="156.3" cy="634" rx="9.2" ry="5.2" fill="url(#gBk)"/>
<text x="156.3" y="636.02" font-size="5.6" text-anchor="middle" font-weight="bold" font-style="normal" fill="#e6e6e6" >Rac1</text>
<circle cx="150.2" cy="651.5" r="4.6" fill="#2a2a2a"/>
<text x="150.2" y="653.4" font-size="5.4" text-anchor="middle" font-weight="bold" font-style="normal" fill="#ddd" >?</text>
<ellipse cx="168.5" cy="651.5" rx="10.5" ry="6" fill="url(#gFdG)"/>
<text x="168.5" y="653" font-size="4.4" text-anchor="middle" font-weight="bold" font-style="normal" fill="#fff" >T      01</text>
<line x1="164.55" y1="647.25" x2="173.05" y2="655.75" stroke="#ea5a50" stroke-width="3.2" stroke-linecap="butt"/>
<line x1="164.55" y1="655.75" x2="173.05" y2="647.25" stroke="#ea5a50" stroke-width="3.2" stroke-linecap="butt"/>
<ellipse cx="197.3" cy="651.5" rx="15" ry="7" fill="url(#gFdG)"/>
<text x="197.3" y="654" font-size="7" text-anchor="middle" font-weight="bold" font-style="normal" fill="#fff" >TB     O4</text>
<line x1="192.6" y1="646.75" x2="202.6" y2="656.25" stroke="#ea5a50" stroke-width="3.6" stroke-linecap="butt"/>
<line x1="192.6" y1="656.25" x2="202.6" y2="646.75" stroke="#ea5a50" stroke-width="3.6" stroke-linecap="butt"/>
<ellipse cx="191.4" cy="678.4" rx="10.7" ry="5.8" fill="url(#gGy)"/>
<text x="191.4" y="679.98" font-size="4.4" text-anchor="middle" font-weight="bold" font-style="normal" fill="#2a2a2a" >GLUT4</text>
<text x="53.4" y="699.6" font-size="6.8" text-anchor="start" font-weight="bold" font-style="normal" fill="#2a2a2a" >Contraction-GU</text>
<text x="105.2" y="700" font-size="8.6" text-anchor="start" font-weight="normal" font-style="normal" fill="#555" letter-spacing="-1.6">↓↓</text>
<text x="53.4" y="707.8" font-size="6.8" text-anchor="start" font-weight="bold" font-style="normal" fill="#2a2a2a" >Stimulation *</text>
<text x="160.8" y="699.6" font-size="6.8" text-anchor="start" font-weight="bold" font-style="normal" fill="#2a2a2a" >Contraction-GU</text>
<text x="212.6" y="700" font-size="8.6" text-anchor="start" font-weight="normal" font-style="normal" fill="#555" letter-spacing="-1.6">↓↓</text>
<text x="160.8" y="707.8" font-size="6.8" text-anchor="start" font-weight="bold" font-style="normal" fill="#2a2a2a" >No stimulation</text>
</svg>
</body></html>
